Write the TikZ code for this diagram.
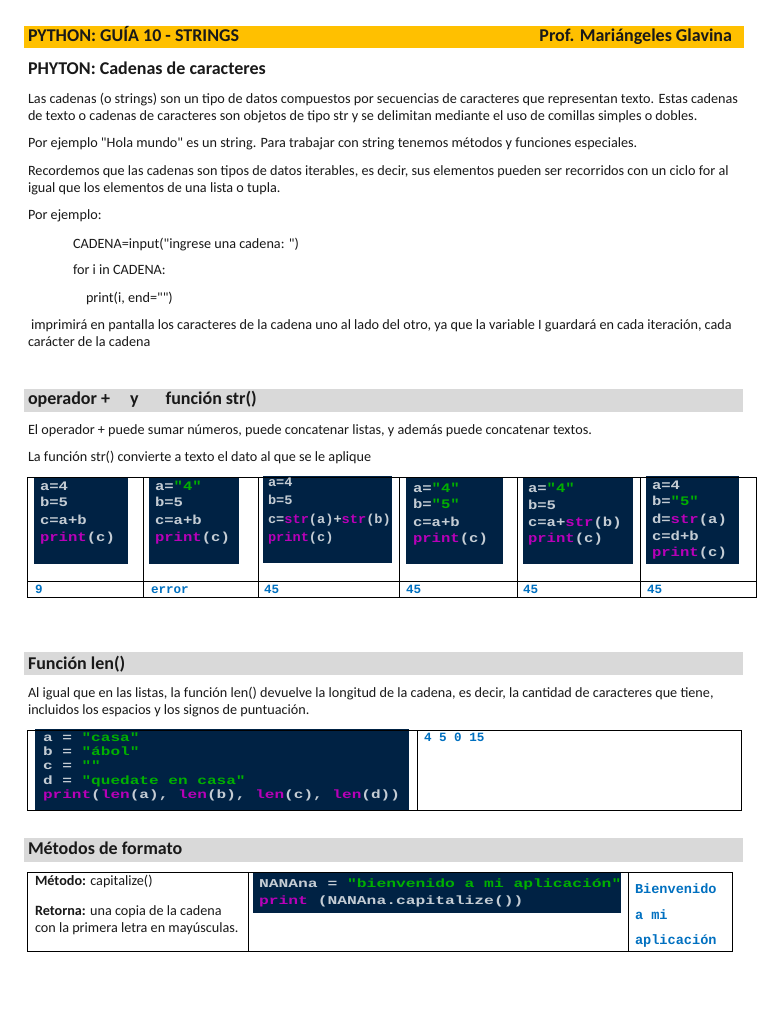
\documentclass[tikz,border=0pt]{standalone}
\usepackage{fontspec}
\setmainfont{Carlito}
\newfontfamily\bodyfont{Carlito}
\newfontfamily\codefont{Liberation Mono}
\definecolor{bandy}{HTML}{FFC000}
\definecolor{bandg}{HTML}{D9D9D9}
\definecolor{navy}{HTML}{002244}
\definecolor{cgreen}{HTML}{00B000}
\definecolor{cmag}{HTML}{B800B8}
\definecolor{cgrey}{HTML}{C4CCD4}
\definecolor{resblue}{HTML}{0070C0}
\newcommand{\gs}[1]{\textcolor{cgreen}{#1}}
\newcommand{\ms}[1]{\textcolor{cmag}{#1}}
\tikzset{
  x=1pt,y=-1pt,
  txt/.style={anchor=base west,inner sep=0pt,outer sep=0pt,font=\bodyfont\fontsize{14.2}{16}\selectfont,text=black!90},
  head/.style={txt,font=\bodyfont\bfseries\fontsize{18}{20}\selectfont},
  small/.style={txt,font=\bodyfont\fontsize{14.2}{16}\selectfont},
  res/.style={txt,font=\codefont\bfseries\fontsize{12.6}{14}\selectfont,text=resblue},
  resb/.style={txt,font=\codefont\bfseries\fontsize{13.6}{14}\selectfont,text=resblue},
  code/.style={txt,font=\codefont\bfseries\fontsize{13}{17}\selectfont,text=cgrey},
  codew/.style={txt,font=\codefont\bfseries\fontsize{12}{14}\selectfont,text=cgrey},
  shot/.style={fill=navy,draw=none},
  rule/.style={draw=black,line width=0.9pt},
}
\newcommand{\cw}[1]{\scalebox{1.2}[1]{#1}}
\newcommand{\cn}[1]{\scalebox{1.05}[1]{#1}}
\newcommand{\wide}[1]{\scalebox{1.34}[1]{#1}}
\begin{document}
\begin{tikzpicture}
\useasboundingbox[fill=white] (0,0) rectangle (768,1024);
% bands
\fill[bandy] (24,26) rectangle (744,48);
\fill[bandg] (24,389) rectangle (743,412);
\fill[bandg] (24,652) rectangle (743,675);
\fill[bandg] (24,838) rectangle (743,862);
% header
\node[head] (h1) at (28,42) {PYTHON: GUÍA 10 - STRINGS};
\node[head,anchor=base east] (h2) at (732,42) {Prof. Mariángeles Glavina};
\node[head] (h3) at (28,74.5) {PHYTON: Cadenas de caracteres};
% body
\node[txt] (b1) at (28,104) {Las cadenas (o strings) son un tipo de datos compuestos por secuencias de caracteres que representan texto. Estas cadenas};
\node[txt] (b2) at (28,121) {de texto o cadenas de caracteres son objetos de tipo str y se delimitan mediante el uso de comillas simples o dobles.};
\node[txt] (b3) at (28,148) {Por ejemplo "Hola mundo" es un string. Para trabajar con string tenemos métodos y funciones especiales.};
\node[txt] (b4) at (28,176) {Recordemos que las cadenas son tipos de datos iterables, es decir, sus elementos pueden ser recorridos con un ciclo for al};
\node[txt] (b5) at (28,193) {igual que los elementos de una lista o tupla.};
\node[txt] (b6) at (28,220) {Por ejemplo:};
\node[txt] (b7) at (73,248) {CADENA=input("ingrese una cadena: ")};
\node[txt] (b8) at (73,274.5) {for i in CADENA:};
\node[txt] (b9) at (86,302) {print(i, end="")};
\node[txt] (b10) at (31,329) {imprimirá en pantalla los caracteres de la cadena uno al lado del otro, ya que la variable I guardará en cada iteración, cada};
\node[txt] (b11) at (28,346) {carácter de la cadena};
% section 1
\node[head] (s1) at (28,404) {operador +\hspace{20pt}y\hspace{27pt}función str()};
\node[txt] (p1) at (28,434) {El operador + puede sumar números, puede concatenar listas, y además puede concatenar textos.};
\node[txt] (p2) at (28,461) {La función str() convierte a texto el dato al que se le aplique};
% table 1 shots
\fill[shot] (34,477) rectangle (128,564);
\fill[shot] (149,477) rectangle (239,564);
\fill[shot] (263,476) rectangle (392,563);
\fill[shot] (406,477) rectangle (503,564);
\fill[shot] (523,477) rectangle (633,564);
\fill[shot] (646,476) rectangle (739,564);
\draw[rule] (27,477) rectangle (756,597);
\draw[rule] (27,581) -- (756,581);
\foreach \xx in {143,258,399,517,640} \draw[rule] (\xx,477) -- (\xx,597);
% col 1
\node[code] (c1a) at (40,490.5) {\cw{a=4}};
\node[code] (c1b) at (40,506) {\cw{b=5}};
\node[code] (c1c) at (40,524) {\cw{c=a+b}};
\node[code] (c1d) at (40,541) {\cw{\ms{print}(c)}};
% col 2
\node[code] (c2a) at (155,490.5) {\cw{a=\gs{"4"}}};
\node[code] (c2b) at (155,506) {\cw{b=5}};
\node[code] (c2c) at (155,524) {\cw{c=a+b}};
\node[code] (c2d) at (155,541) {\cw{\ms{print}(c)}};
% col 3
\node[code] (c3a) at (268,486) {\cn{a=4}};
\node[code] (c3b) at (268,504) {\cn{b=5}};
\node[code] (c3c) at (268,523) {\cn{c=\ms{str}(a)+\ms{str}(b)}};
\node[code] (c3d) at (268,541) {\cn{\ms{print}(c)}};
% col 4
\node[code] (c4a) at (413,492) {\cw{a=\gs{"4"}}};
\node[code] (c4b) at (413,508) {\cw{b=\gs{"5"}}};
\node[code] (c4c) at (413,526) {\cw{c=a+b}};
\node[code] (c4d) at (413,542) {\cw{\ms{print}(c)}};
% col 5
\node[code] (c5a) at (528,492) {\cw{a=\gs{"4"}}};
\node[code] (c5b) at (528,509) {\cw{b=5}};
\node[code] (c5c) at (528,526) {\cw{c=a+\ms{str}(b)}};
\node[code] (c5d) at (528,542) {\cw{\ms{print}(c)}};
% col 6
\node[code] (c6a) at (652,489.5) {\cw{a=4}};
\node[code] (c6b) at (652,505.5) {\cw{b=\gs{"5"}}};
\node[code] (c6c) at (652,523) {\cw{d=\ms{str}(a)}};
\node[code] (c6d) at (652,540) {\cw{c=d+b}};
\node[code] (c6e) at (652,556.5) {\cw{\ms{print}(c)}};
% results
\node[res] (r1) at (35,593) {9};
\node[res] (r2) at (151,593) {error};
\node[res] (r3) at (264,593) {45};
\node[res] (r4) at (406,593) {45};
\node[res] (r5) at (523,593) {45};
\node[res] (r6) at (647,593) {45};
% section 2
\node[head] (s2) at (28,669) {Función len()};
\node[txt] (q1) at (28,697) {Al igual que en las listas, la función len() devuelve la longitud de la cadena, es decir, la cantidad de caracteres que tiene,};
\node[txt] (q2) at (28,714) {incluidos los espacios y los signos de puntuación.};
\fill[shot] (35,729) rectangle (409,810);
\draw[rule] (27,730) rectangle (741,810);
\draw[rule] (417,730) -- (417,810);
\node[codew] (l1) at (43,741.5) {\wide{a = \gs{"casa"}}};
\node[codew] (l2) at (43,755.5) {\wide{b = \gs{"ábol"}}};
\node[codew] (l3) at (43,769.5) {\wide{c = \gs{""}}};
\node[codew] (l4) at (43,784) {\wide{d = \gs{"quedate en casa"}}};
\node[codew] (l5) at (43,798) {\wide{\ms{print}(\ms{len}(a), \ms{len}(b), \ms{len}(c), \ms{len}(d))}};
\node[res] (l6) at (424,741) {4 5 0 15};
% section 3
\node[head] (s3) at (28,854) {Métodos de formato};
\fill[shot] (253,872) rectangle (621,913);
\draw[rule] (27,872) rectangle (732,951);
\draw[rule] (248,872) -- (248,951);
\draw[rule] (628,872) -- (628,951);
\node[small] (m1) at (35,885) {\textbf{Método:} capitalize()};
\node[small] (m2) at (35,915) {\textbf{Retorna:} una copia de la cadena};
\node[small] (m3) at (35,932) {con la primera letra en mayúsculas.};
\node[codew] (n1) at (259,887.5) {\scalebox{1.36}[1]{NANAna = \gs{"bienvenido a mi aplicación"}}};
\node[codew] (n2) at (259,904.5) {\scalebox{1.36}[1]{\ms{print} (NANAna.capitalize())}};
\node[resb] (o1) at (635,893) {Bienvenido};
\node[resb] (o2) at (635,919) {a mi};
\node[resb] (o3) at (635,944) {aplicación};
\end{tikzpicture}
\end{document}
